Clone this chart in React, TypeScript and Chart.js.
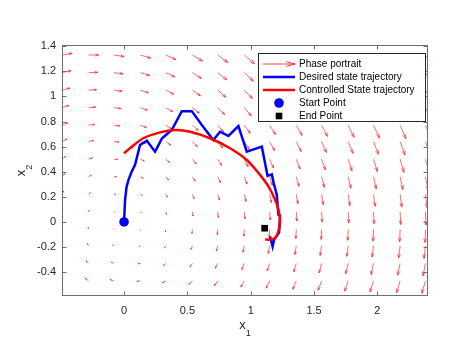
import React, { useEffect, useRef } from "react";
import { Chart, registerables } from "chart.js";

Chart.register(...registerables);

const FONT = '"Liberation Sans", Arial, Helvetica, sans-serif';
const BLUE = "#0000ff";
const RED = "#ff0000";
const QUIVER_COLOR = "rgba(255,0,0,0.9)";
const AXIS_COLOR = "#262626";

// axis limits and ticks
const xLimits = [-0.49, 2.4];
const yLimits = [-0.59, 1.41];
const xTicks = [0, 0.5, 1, 1.5, 2];
const xTickLabels = ["0", "0.5", "1", "1.5", "2"];
const yTicks = [-0.4, -0.2, 0, 0.2, 0.4, 0.6, 0.8, 1, 1.2, 1.4];
const yTickLabels = ["-0.4", "-0.2", "0", "0.2", "0.4", "0.6", "0.8", "1", "1.2", "1.4"];

// phase portrait grid (quiver)
const gridX = [-0.49, -0.28, -0.08, 0.13, 0.33, 0.54, 0.74, 0.95, 1.15, 1.36, 1.56, 1.77, 1.97, 2.18, 2.38];
const gridY = [-0.47, -0.33, -0.19, -0.06, 0.08, 0.22, 0.36, 0.5, 0.64, 0.77, 0.91, 1.05, 1.19, 1.33];
// vector components, one row per gridY value
const fieldU = [
  [-0.47, -0.47, -0.47, -0.47, -0.47, -0.47, -0.47, -0.47, -0.47, -0.47, -0.47, -0.47, -0.47, -0.47, -0.47],
  [-0.33, -0.33, -0.33, -0.33, -0.33, -0.33, -0.33, -0.33, -0.33, -0.33, -0.33, -0.33, -0.33, -0.33, -0.33],
  [-0.19, -0.19, -0.19, -0.19, -0.19, -0.19, -0.19, -0.19, -0.19, -0.19, -0.19, -0.19, -0.19, -0.19, -0.19],
  [-0.06, -0.06, -0.06, -0.06, -0.06, -0.06, -0.06, -0.06, -0.06, -0.06, -0.06, -0.06, -0.06, -0.06, -0.06],
  [0.08, 0.08, 0.08, 0.08, 0.08, 0.08, 0.08, 0.08, 0.08, 0.08, 0.08, 0.08, 0.08, 0.08, 0.08],
  [0.22, 0.22, 0.22, 0.22, 0.22, 0.22, 0.22, 0.22, 0.22, 0.22, 0.22, 0.22, 0.22, 0.22, 0.22],
  [0.36, 0.36, 0.36, 0.36, 0.36, 0.36, 0.36, 0.36, 0.36, 0.36, 0.36, 0.36, 0.36, 0.36, 0.36],
  [0.5, 0.5, 0.5, 0.5, 0.5, 0.5, 0.5, 0.5, 0.5, 0.5, 0.5, 0.5, 0.5, 0.5, 0.5],
  [0.64, 0.64, 0.64, 0.64, 0.64, 0.64, 0.64, 0.64, 0.64, 0.64, 0.64, 0.64, 0.64, 0.64, 0.64],
  [0.77, 0.77, 0.77, 0.77, 0.77, 0.77, 0.77, 0.77, 0.77, 0.77, 0.77, 0.77, 0.77, 0.77, 0.77],
  [0.91, 0.91, 0.91, 0.91, 0.91, 0.91, 0.91, 0.91, 0.91, 0.91, 0.91, 0.91, 0.91, 0.91, 0.91],
  [1.05, 1.05, 1.05, 1.05, 1.05, 1.05, 1.05, 1.05, 1.05, 1.05, 1.05, 1.05, 1.05, 1.05, 1.05],
  [1.19, 1.19, 1.19, 1.19, 1.19, 1.19, 1.19, 1.19, 1.19, 1.19, 1.19, 1.19, 1.19, 1.19, 1.19],
  [1.33, 1.33, 1.33, 1.33, 1.33, 1.33, 1.33, 1.33, 1.33, 1.33, 1.33, 1.33, 1.33, 1.33, 1.33],
];
const fieldV = [
  [0.58, 0.37, 0.17, -0.04, -0.24, -0.44, -0.63, -0.81, -0.97, -1.11, -1.24, -1.36, -1.46, -1.56, -1.65],
  [0.56, 0.35, 0.15, -0.06, -0.26, -0.46, -0.65, -0.83, -0.99, -1.13, -1.26, -1.38, -1.48, -1.58, -1.67],
  [0.53, 0.32, 0.12, -0.09, -0.29, -0.49, -0.68, -0.86, -1.02, -1.16, -1.29, -1.41, -1.51, -1.61, -1.7],
  [0.5, 0.29, 0.09, -0.12, -0.32, -0.52, -0.71, -0.89, -1.05, -1.19, -1.32, -1.44, -1.54, -1.64, -1.73],
  [0.47, 0.26, 0.06, -0.15, -0.35, -0.55, -0.74, -0.92, -1.08, -1.22, -1.35, -1.47, -1.57, -1.67, -1.76],
  [0.45, 0.24, 0.04, -0.17, -0.37, -0.57, -0.76, -0.94, -1.1, -1.24, -1.37, -1.49, -1.59, -1.69, -1.78],
  [0.42, 0.21, 0.01, -0.2, -0.4, -0.6, -0.79, -0.97, -1.13, -1.27, -1.4, -1.52, -1.62, -1.72, -1.81],
  [0.39, 0.18, -0.02, -0.23, -0.43, -0.63, -0.82, -1.0, -1.16, -1.3, -1.43, -1.55, -1.65, -1.75, -1.84],
  [0.36, 0.15, -0.05, -0.26, -0.46, -0.66, -0.85, -1.03, -1.19, -1.33, -1.46, -1.58, -1.68, -1.78, -1.87],
  [0.34, 0.13, -0.07, -0.28, -0.48, -0.68, -0.87, -1.05, -1.21, -1.35, -1.48, -1.6, -1.7, -1.8, -1.89],
  [0.31, 0.1, -0.1, -0.31, -0.51, -0.71, -0.9, -1.08, -1.24, -1.38, -1.51, -1.63, -1.73, -1.83, -1.92],
  [0.28, 0.07, -0.13, -0.34, -0.54, -0.74, -0.93, -1.11, -1.27, -1.41, -1.54, -1.66, -1.76, -1.86, -1.95],
  [0.25, 0.04, -0.16, -0.37, -0.57, -0.77, -0.96, -1.14, -1.3, -1.44, -1.57, -1.69, -1.79, -1.89, -1.98],
  [0.22, 0.01, -0.19, -0.4, -0.6, -0.8, -0.99, -1.17, -1.33, -1.47, -1.6, -1.72, -1.82, -1.92, -2.01],
];
const QUIVER_SCALE = 0.06;

// desired state trajectory
const desiredX = [0, 0.008, 0.02, 0.035, 0.06, 0.087, 0.126, 0.18, 0.245, 0.3, 0.377, 0.456, 0.535, 0.614, 0.705, 0.758, 0.824, 0.903, 0.969, 1.088, 1.133, 1.167, 1.181, 1.206, 1.212, 1.219, 1.232, 1.224, 1.185, 1.173, 1.153];
const desiredY = [0, 0.177, 0.28, 0.335, 0.4, 0.455, 0.613, 0.648, 0.56, 0.667, 0.733, 0.883, 0.883, 0.772, 0.653, 0.719, 0.685, 0.764, 0.56, 0.6, 0.367, 0.379, 0.312, 0.217, 0.137, 0.058, 0.05, -0.085, -0.14, -0.196, -0.116];

// controlled state trajectory
const controlledX = [0, 0.047, 0.152, 0.284, 0.403, 0.521, 0.679, 0.837, 0.969, 1.074, 1.14, 1.193, 1.219, 1.232, 1.219, 1.193, 1.153, 1.114];
const controlledY = [0.547, 0.587, 0.667, 0.714, 0.732, 0.719, 0.667, 0.587, 0.494, 0.375, 0.283, 0.177, 0.098, 0.018, -0.075, -0.127, -0.14, -0.14];

const startPoint = [0, 0];
const endPoint = [1.11, -0.05];

const legendLabels = [
  "Phase portrait",
  "Desired state trajectory",
  "Controlled State trajectory",
  "Start Point",
  "End Point",
];

function drawArrow(ctx: CanvasRenderingContext2D, pts: number[][]) {
  ctx.beginPath();
  ctx.moveTo(pts[0][0], pts[0][1]);
  ctx.lineTo(pts[1][0], pts[1][1]);
  ctx.moveTo(pts[2][0], pts[2][1]);
  ctx.lineTo(pts[1][0], pts[1][1]);
  ctx.lineTo(pts[3][0], pts[3][1]);
  ctx.stroke();
}

const phasePlugin = {
  id: "phasePortrait",
  beforeDatasetsDraw(chart: any) {
    const { ctx, chartArea } = chart;
    const xs = chart.scales.x;
    const ys = chart.scales.y;
    ctx.save();
    ctx.beginPath();
    ctx.rect(chartArea.left, chartArea.top, chartArea.right - chartArea.left, chartArea.bottom - chartArea.top);
    ctx.clip();
    ctx.strokeStyle = QUIVER_COLOR;
    ctx.lineWidth = 0.65;
    const a = 0.33;
    const b = 0.33;
    const P = (x: number, y: number) => [xs.getPixelForValue(x), ys.getPixelForValue(y)];
    gridY.forEach((y0, i) => {
      gridX.forEach((x0, j) => {
        const u = fieldU[i][j] * QUIVER_SCALE;
        const v = fieldV[i][j] * QUIVER_SCALE;
        const tx = x0 + u;
        const ty = y0 + v;
        const h1x = tx - a * (u + b * v);
        const h1y = ty - a * (v - b * u);
        const h2x = tx - a * (u - b * v);
        const h2y = ty - a * (v + b * u);
        drawArrow(ctx, [P(x0, y0), P(tx, ty), P(h1x, h1y), P(h2x, h2y)]);
      });
    });
    ctx.restore();
  },
  afterDraw(chart: any) {
    const { ctx, chartArea } = chart;
    const xs = chart.scales.x;
    const ys = chart.scales.y;
    const L = Math.round(chartArea.left) + 0.5;
    const R = Math.round(chartArea.right) - 0.5;
    const T = Math.round(chartArea.top) + 0.5;
    const B = Math.round(chartArea.bottom) - 0.5;
    ctx.save();
    // frame
    ctx.strokeStyle = "#6f6f6f";
    ctx.lineWidth = 1;
    ctx.strokeRect(L, T, R - L, B - T);
    // inner ticks on all four sides
    ctx.beginPath();
    const tl = 4;
    xTicks.forEach((v) => {
      const px = Math.round(xs.getPixelForValue(v)) + 0.5;
      ctx.moveTo(px, B);
      ctx.lineTo(px, B - tl);
      ctx.moveTo(px, T);
      ctx.lineTo(px, T + tl);
    });
    yTicks.forEach((v) => {
      const py = Math.round(ys.getPixelForValue(v)) + 0.5;
      ctx.moveTo(L, py);
      ctx.lineTo(L + tl, py);
      ctx.moveTo(R, py);
      ctx.lineTo(R - tl, py);
    });
    ctx.stroke();

    // axis labels x_1 and x_2
    ctx.fillStyle = AXIS_COLOR;
    ctx.textBaseline = "alphabetic";
    const mainFont = `13px ${FONT}`;
    const subFont = `9px ${FONT}`;
    ctx.font = mainFont;
    const wx = ctx.measureText("x").width;
    ctx.font = subFont;
    const w1 = ctx.measureText("1").width;
    const cx = (chartArea.left + chartArea.right) / 2;
    const x0 = cx - (wx + w1) / 2;
    ctx.font = mainFont;
    ctx.textAlign = "left";
    ctx.fillText("x", x0, 329);
    ctx.font = subFont;
    ctx.fillText("1", x0 + wx, 336);

    const cy = (chartArea.top + chartArea.bottom) / 2;
    ctx.save();
    ctx.translate(25, cy);
    ctx.rotate(-Math.PI / 2);
    ctx.font = mainFont;
    const wx2 = ctx.measureText("x").width;
    ctx.font = subFont;
    const w2 = ctx.measureText("2").width;
    ctx.font = mainFont;
    ctx.fillText("x", -(wx2 + w2) / 2, 0);
    ctx.font = subFont;
    ctx.fillText("2", -(wx2 + w2) / 2 + wx2, 7);
    ctx.restore();

    // legend
    const lw = 167;
    const lh = 68;
    const lx = Math.round(chartArea.right) - 2.5 - lw;
    const ly = Math.round(chartArea.top) + 8.5;
    ctx.fillStyle = "#ffffff";
    ctx.fillRect(lx, ly, lw, lh);
    ctx.strokeStyle = "#262626";
    ctx.lineWidth = 1;
    ctx.strokeRect(lx, ly, lw, lh);
    const s0 = lx + 4.5;
    const s1 = lx + 36.5;
    const sm = (s0 + s1) / 2;
    const textX = lx + 40.5;
    ctx.font = `10px ${FONT}`;
    ctx.textBaseline = "middle";
    ctx.textAlign = "left";
    legendLabels.forEach((label, k) => {
      const ry = ly + 10.5 + k * 13;
      if (k === 0) {
        ctx.strokeStyle = QUIVER_COLOR;
        ctx.lineWidth = 0.8;
        drawArrow(ctx, [[s0, ry], [s1, ry], [s1 - 9, ry - 2.5], [s1 - 9, ry + 2.5]]);
      } else if (k === 1 || k === 2) {
        ctx.strokeStyle = k === 1 ? BLUE : RED;
        ctx.lineWidth = 2.5;
        ctx.beginPath();
        ctx.moveTo(s0, ry);
        ctx.lineTo(s1, ry);
        ctx.stroke();
      } else if (k === 3) {
        ctx.fillStyle = BLUE;
        ctx.beginPath();
        ctx.arc(sm, ry, 4.8, 0, Math.PI * 2);
        ctx.fill();
      } else {
        ctx.fillStyle = "#000000";
        ctx.fillRect(sm - 3.3, ry - 3.3, 6.6, 6.6);
      }
      ctx.fillStyle = "#000000";
      ctx.fillText(label, textX, ry + 0.5);
    });
    ctx.restore();
  },
};

export default function App() {
  const ref = useRef<HTMLCanvasElement | null>(null);
  useEffect(() => {
    document.body.style.margin = "0";
    const canvas = ref.current;
    if (!canvas) return;
    const chart = new Chart(canvas, {
      type: "scatter",
      data: {
        datasets: [
          {
            label: legendLabels[1],
            data: desiredX.map((x, i) => ({ x, y: desiredY[i] })),
            showLine: true,
            borderColor: BLUE,
            backgroundColor: BLUE,
            borderWidth: 2.5,
            pointRadius: 0,
            tension: 0,
            order: 3,
          },
          {
            label: legendLabels[2],
            data: controlledX.map((x, i) => ({ x, y: controlledY[i] })),
            showLine: true,
            borderColor: RED,
            backgroundColor: RED,
            borderWidth: 2.5,
            pointRadius: 0,
            tension: 0.35,
            order: 2,
          },
          {
            label: legendLabels[3],
            data: [{ x: startPoint[0], y: startPoint[1] }],
            pointStyle: "circle",
            pointRadius: 4.8,
            backgroundColor: BLUE,
            borderColor: BLUE,
            borderWidth: 0,
            order: 1,
          },
          {
            label: legendLabels[4],
            data: [{ x: endPoint[0], y: endPoint[1] }],
            pointStyle: "rect",
            pointRadius: 4.7,
            backgroundColor: "#000000",
            borderColor: "#000000",
            borderWidth: 0,
            order: 0,
          },
        ],
      },
      options: {
        responsive: false,
        animation: false,
        devicePixelRatio: 1,
        layout: { padding: { top: 45, right: 46, left: 0, bottom: 0 } },
        plugins: { legend: { display: false }, tooltip: { enabled: false } },
        scales: {
          x: {
            type: "linear",
            min: xLimits[0],
            max: xLimits[1],
            grid: { display: false, drawTicks: false },
            border: { display: false },
            ticks: {
              padding: 8,
              color: AXIS_COLOR,
              font: { family: FONT, size: 11 },
              maxRotation: 0,
              callback: (_v: any, i: number) => xTickLabels[i],
            },
            afterBuildTicks: (s: any) => {
              s.ticks = xTicks.map((value) => ({ value }));
            },
            afterFit: (s: any) => {
              s.height = 59;
            },
          },
          y: {
            type: "linear",
            min: yLimits[0],
            max: yLimits[1],
            grid: { display: false, drawTicks: false },
            border: { display: false },
            ticks: {
              padding: 6,
              color: AXIS_COLOR,
              font: { family: FONT, size: 11 },
              callback: (_v: any, i: number) => yTickLabels[i],
            },
            afterBuildTicks: (s: any) => {
              s.ticks = yTicks.map((value) => ({ value }));
            },
            afterFit: (s: any) => {
              s.width = 62;
            },
          },
        },
      },
      plugins: [phasePlugin],
    });
    return () => chart.destroy();
  }, []);
  return (
    <div style={{ width: 474, height: 355 }}>
      <canvas ref={ref} width={474} height={355} style={{ display: "block" }} />
    </div>
  );
}
